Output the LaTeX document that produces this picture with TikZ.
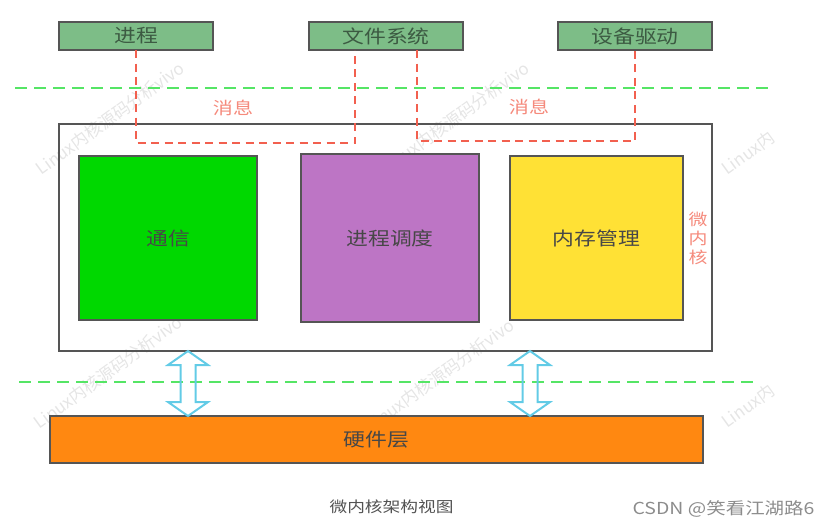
\documentclass[tikz,border=0pt]{standalone}
\usepackage{fontspec}
\setmainfont{Noto Sans CJK SC}
\usetikzlibrary{positioning,shapes.arrows}
\definecolor{topgreen}{HTML}{7DBD87}
\definecolor{toptext}{HTML}{3C5A42}
\definecolor{msgred}{HTML}{F2604F}
\definecolor{labelred}{HTML}{F58A7C}
\definecolor{sepgreen}{HTML}{55E565}
\definecolor{boxline}{HTML}{555555}
\definecolor{busblue}{HTML}{62CBE6}
\definecolor{commgreen}{HTML}{00D800}
\definecolor{schedpurple}{HTML}{BD75C5}
\definecolor{memyellow}{HTML}{FFE135}
\definecolor{hworange}{HTML}{FF8811}
\newcommand{\wtxt}[1]{\scalebox{1.18}[1]{#1}}
\tikzset{
  basebox/.style={draw=boxline, line width=1.8pt, inner sep=0pt, outer sep=0pt, text=black!72, font=\fontsize{18.5}{22}\selectfont},
  topbox/.style={basebox, fill=topgreen, minimum width=154pt, minimum height=28pt, text=toptext},
  innerbox/.style={basebox, minimum height=164pt},
  msg/.style={draw=msgred, line width=2pt, dash pattern=on 8pt off 5.5pt},
  sepline/.style={draw=sepgreen, line width=2pt, dash pattern=on 12pt off 7pt},
  msglabel/.style={text=labelred, font=\fontsize{17}{21}\selectfont},
  bus/.style={double arrow, draw=busblue, line width=2pt, rotate=90, inner xsep=0pt, inner ysep=6.5pt, minimum width=38pt, minimum height=65pt, double arrow head extend=12.5pt, double arrow tip angle=110},
  wmark/.style={text=black!10, rotate=36, font=\fontsize{17}{20}\selectfont}
}

\begin{document}
\begin{tikzpicture}[x=1pt, y=-1pt]
  \useasboundingbox (0,0) rectangle (833,528);
  % watermark goes first, the filled boxes sit on top of it
  \node[wmark] (w1) at (110,118) {Linux内核源码分析vivo};
  \node[wmark] (w2) at (455,118) {Linux内核源码分析vivo};
  \node[wmark] (w3) at (108,372) {Linux内核源码分析vivo};
  \node[wmark] (w4) at (440,375) {Linux内核源码分析vivo};
  \node[wmark] (w5) at (748,153) {Linux内};
  \node[wmark] (w6) at (748,406) {Linux内};

  \coordinate (sa) at (15,88);
  \coordinate (sb) at (768,88);
  \coordinate (sc) at (19,382);
  \coordinate (sd) at (758,382);
  \draw[sepline] (sa) -- (sb);
  \draw[sepline] (sc) -- (sd);

  \node[basebox, minimum width=653pt, minimum height=227pt] (kernel) at (385.5,237.5) {};
  \node[innerbox, fill=commgreen, minimum width=178pt] (comm) at (168,238) {\wtxt{通信}};
  \node[innerbox, fill=schedpurple, minimum width=178pt, minimum height=168pt] (sched) [right=44pt of comm] {\wtxt{进程调度}};
  \node[innerbox, fill=memyellow, minimum width=173pt] (mem) [right=31pt of sched] {\wtxt{内存管理}};
  \node[msglabel, align=center, inner sep=0pt, font=\fontsize{16}{19}\selectfont] (kname) at (698,238) {\wtxt{微}\\\wtxt{内}\\\wtxt{核}};

  \node[topbox] (proc) at (136,36) {\wtxt{进程}};
  \node[topbox] (fs) [right=96pt of proc] {\wtxt{文件系统}};
  \node[topbox] (drv) [right=95pt of fs] {\wtxt{设备驱动}};

  \node[basebox, fill=hworange, minimum width=653pt, minimum height=47pt] (hw) at (376.5,439.5) {\wtxt{硬件层}};

  \coordinate (fsl) at (355,50);
  \coordinate (fsr) at (417,50);
  \coordinate (ml) at (355,143);
  \coordinate (mr) at (635,141);
  \draw[msg] (proc.south) |- (ml) -- (fsl);
  \draw[msg] (fsr) |- (mr) -- (drv.south);

  \node[msglabel] (m1) at (233,108) {\wtxt{消息}};
  \node[msglabel] (m2) at (529,107) {\wtxt{消息}};

  \node[bus] (b1) at (188,383.5) {};
  \node[bus] (b2) at (530,383.5) {};

  \node[text=black!68, font=\fontsize{15}{19}\selectfont] (cap) at (391.5,507) {\wtxt{微内核架构视图}};
  \node[text=black!45, font=\fontsize{16.5}{19}\selectfont, anchor=east] (csdn) at (818,509) {\wtxt{CSDN @笑看江湖路6}};
\end{tikzpicture}
\end{document}
